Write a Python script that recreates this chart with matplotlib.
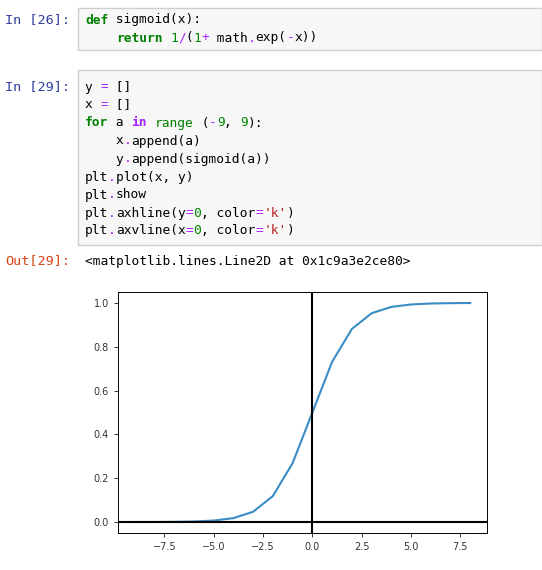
import matplotlib
matplotlib.use("Agg")
import matplotlib.pyplot as plt
from matplotlib.patches import Rectangle

W, H = 542, 570
x_vals = [-9, -8, -7, -6, -5, -4, -3, -2, -1, 0, 1, 2, 3, 4, 5, 6, 7, 8]
y_vals = [0.0001, 0.0003, 0.0009, 0.0025, 0.0067, 0.018, 0.047, 0.119, 0.269,
          0.5, 0.731, 0.881, 0.953, 0.982, 0.993, 0.9975, 0.9991, 0.9997]

fig = plt.figure(figsize=(W/100, H/100), dpi=100)
fig.patch.set_facecolor("white")

def fx(px): return px / W
def fy(py): return 1 - py / H

for (top, bot) in [(8, 50), (70, 245)]:
    fig.patches.append(Rectangle((fx(78), fy(bot)), fx(542-78), (bot-top)/H,
                                 transform=fig.transFigure, facecolor="#f7f7f7",
                                 edgecolor="#cfcfcf", lw=1))

MONO = "DejaVu Sans Mono"
FS = 9.3
CW = 7.75
K, N, O, S, BL = "#008000", "#008800", "#AA22FF", "#BA2121", "#000000"

def line(y, tokens, x0=85):
    col = 0
    for txt, c, bold in tokens:
        fig.text(fx(x0 + col*CW), fy(y), txt, color=c, fontsize=FS, family=MONO,
                 weight="bold" if bold else "normal", va="center", ha="left")
        col += len(txt)

fig.text(fx(5), fy(20), "In [26]:", color="#303F9F", fontsize=FS+0.4, family=MONO, va="center")
line(20, [("def", K, True), (" sigmoid(x):", BL, False)])
line(38, [("    ", BL, False), ("return", K, True), (" ", BL, False), ("1", N, False),
          ("/", O, False), ("(", BL, False), ("1", N, False), ("+", O, False),
          (" math", BL, False), (".", O, False), ("exp(", BL, False), ("-", O, False), ("x))", BL, False)])

fig.text(fx(5), fy(87), "In [29]:", color="#303F9F", fontsize=FS+0.4, family=MONO, va="center")
ys = [87, 105, 123, 141, 159, 177, 195, 213, 231]
line(ys[0], [("y ", BL, False), ("=", O, False), (" []", BL, False)])
line(ys[1], [("x ", BL, False), ("=", O, False), (" []", BL, False)])
line(ys[2], [("for", K, True), (" a ", BL, False), ("in", O, True), (" ", BL, False),
             ("range", K, False), (" (", BL, False), ("-", O, False), ("9", N, False),
             (", ", BL, False), ("9", N, False), ("):", BL, False)])
line(ys[3], [("    x", BL, False), (".", O, False), ("append(a)", BL, False)])
line(ys[4], [("    y", BL, False), (".", O, False), ("append(sigmoid(a))", BL, False)])
line(ys[5], [("plt", BL, False), (".", O, False), ("plot(x, y)", BL, False)])
line(ys[6], [("plt", BL, False), (".", O, False), ("show", BL, False)])
line(ys[7], [("plt", BL, False), (".", O, False), ("axhline(y", BL, False), ("=", O, False),
             ("0", N, False), (", color", BL, False), ("=", O, False), ("'k'", S, False), (")", BL, False)])
line(ys[8], [("plt", BL, False), (".", O, False), ("axvline(x", BL, False), ("=", O, False),
             ("0", N, False), (", color", BL, False), ("=", O, False), ("'k'", S, False), (")", BL, False)])

fig.text(fx(5), fy(261), "Out[29]:", color="#D84315", fontsize=FS+0.4, family=MONO, va="center")
fig.text(fx(85), fy(261), "<matplotlib.lines.Line2D at 0x1c9a3e2ce80>", color="black",
         fontsize=FS, family=MONO, va="center")

ax = fig.add_axes([fx(118), fy(533), (487-118)/W, (533-292)/H])
ax.plot(x_vals, y_vals, color="#3a8cc4", lw=1.5)
ax.axhline(y=0, color="k")
ax.axvline(x=0, color="k")
ax.set_xlim(-9.85, 8.85)
ax.set_ylim(-0.05, 1.05)
ax.set_xticks([-7.5, -5.0, -2.5, 0.0, 2.5, 5.0, 7.5])
ax.set_yticks([0.0, 0.2, 0.4, 0.6, 0.8, 1.0])
ax.tick_params(labelsize=7, length=3, width=0.7, labelcolor="#333333", color="#333333")
for s in ax.spines.values():
    s.set_linewidth(0.7)

fig.savefig("out.png", dpi=100)
